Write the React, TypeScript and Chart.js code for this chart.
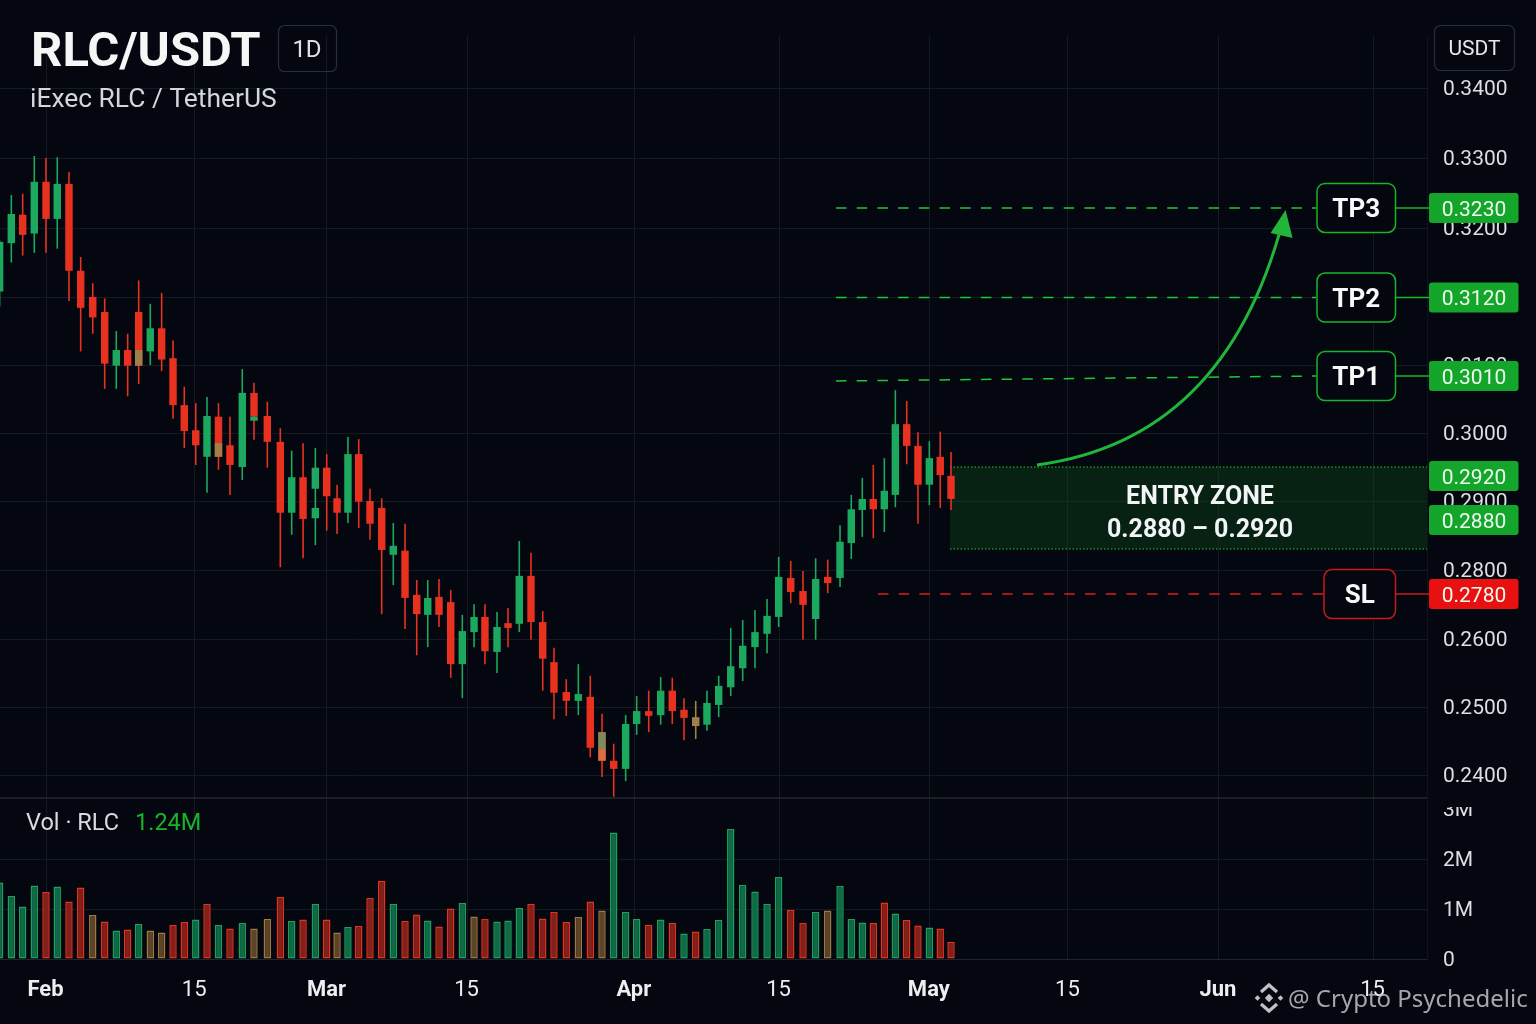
import React, { useEffect, useRef } from "react";
import { Chart, LinearScale, registerables } from "chart.js";

// ---- data ----
// slot of each candle on the x axis, in days from the "Feb" tick (the picture's spacing wobbles)
const candleSlots = [
  -4, -2.99, -2.01, -1.01, 0, 0.97, 1.98, 2.99, 4.03, 5.06, 6.06, 7.04, 7.99, 8.99, 9.97, 10.95, 11.92, 12.91, 13.88,
  14.87, 15.86, 16.92, 17.93, 19.08, 20.2, 21.18, 22.16, 23.22, 24.2, 25.09, 26.03, 26.96, 27.93, 28.94, 29.94, 30.95,
  31.96, 32.91, 33.88, 34.89, 35.89, 36.9, 37.84, 38.88, 39.83, 40.8, 41.81, 42.82, 43.79, 44.85, 45.89, 46.92, 47.93,
  48.94, 49.97, 50.92, 51.96, 52.99, 53.99, 55, 56.01, 56.98, 57.99, 59.03, 60.06, 61.12, 62.16, 63.16, 64.2, 65.26,
  66.35, 67.39, 68.45, 69.42, 70.37, 71.32, 72.27, 73.22, 74.2, 75.17, 76.15, 77.09, 78.02,
];
const opens = [
  0.3154, 0.3189, 0.3219, 0.3196, 0.3266, 0.3213, 0.3263, 0.3169, 0.3150, 0.3139, 0.3099, 0.3111, 0.3139, 0.3110,
  0.3127, 0.3105, 0.3041, 0.3004, 0.2965, 0.3024, 0.2982, 0.2950, 0.3059, 0.3025, 0.2987, 0.2883, 0.2935, 0.2918,
  0.2949, 0.2904, 0.2883, 0.2969, 0.2900, 0.2890, 0.2822, 0.2828, 0.2728, 0.2670, 0.2722, 0.2707, 0.2563, 0.2620,
  0.2664, 0.2581, 0.2646, 0.2644, 0.2783, 0.2649, 0.2566, 0.2522, 0.2509, 0.2515, 0.2463, 0.2421, 0.2409, 0.2475,
  0.2494, 0.2488, 0.2524, 0.2496, 0.2485, 0.2474, 0.2503, 0.2529, 0.2557, 0.2588, 0.2615, 0.2664, 0.2777, 0.2739,
  0.2658, 0.2780, 0.2777, 0.2839, 0.2887, 0.2903, 0.2888, 0.2909, 0.3013, 0.2981, 0.2924, 0.2965, 0.2937,
];
const closes = [
  0.3190, 0.3220, 0.3195, 0.3266, 0.3213, 0.3263, 0.3169, 0.3142, 0.3135, 0.3101, 0.3111, 0.3099, 0.3099, 0.3127,
  0.3104, 0.3041, 0.3003, 0.2982, 0.3025, 0.2965, 0.2953, 0.3059, 0.3024, 0.2987, 0.2883, 0.2935, 0.2874, 0.2949,
  0.2907, 0.2883, 0.2969, 0.2899, 0.2867, 0.2829, 0.2835, 0.2719, 0.2672, 0.2719, 0.2670, 0.2563, 0.2623, 0.2664,
  0.2582, 0.2635, 0.2632, 0.2783, 0.2649, 0.2571, 0.2521, 0.2509, 0.2519, 0.2440, 0.2421, 0.2409, 0.2475, 0.2494,
  0.2487, 0.2524, 0.2494, 0.2484, 0.2472, 0.2506, 0.2531, 0.2560, 0.2590, 0.2620, 0.2667, 0.2780, 0.2736, 0.2699,
  0.2774, 0.2762, 0.2841, 0.2888, 0.2903, 0.2888, 0.2915, 0.3013, 0.2981, 0.2924, 0.2963, 0.2938, 0.2903,
];
const highs = [
  0.3191, 0.3247, 0.3249, 0.3303, 0.3300, 0.3301, 0.3280, 0.3179, 0.3160, 0.3149, 0.3125, 0.3123, 0.3162, 0.3145,
  0.3153, 0.3118, 0.3068, 0.3044, 0.3053, 0.3044, 0.3024, 0.3094, 0.3074, 0.3046, 0.3007, 0.2974, 0.2985, 0.2978,
  0.2969, 0.2924, 0.2994, 0.2991, 0.2918, 0.2904, 0.2868, 0.2867, 0.2771, 0.2771, 0.2774, 0.2742, 0.2670, 0.2701,
  0.2701, 0.2678, 0.2690, 0.2842, 0.2825, 0.2681, 0.2587, 0.2541, 0.2563, 0.2546, 0.2490, 0.2446, 0.2488, 0.2516,
  0.2524, 0.2544, 0.2543, 0.2513, 0.2509, 0.2524, 0.2546, 0.2632, 0.2655, 0.2684, 0.2716, 0.2819, 0.2813, 0.2797,
  0.2817, 0.2815, 0.2865, 0.2909, 0.2934, 0.2953, 0.2963, 0.3063, 0.3047, 0.3001, 0.2988, 0.3002, 0.2972,
];
const lows = [
  0.3143, 0.3175, 0.3180, 0.3182, 0.3182, 0.3185, 0.3147, 0.3110, 0.3123, 0.3065, 0.3065, 0.3054, 0.3072, 0.3100,
  0.3091, 0.3021, 0.2978, 0.2953, 0.2912, 0.2946, 0.2909, 0.2931, 0.2990, 0.2949, 0.2804, 0.2851, 0.2817, 0.2836,
  0.2857, 0.2852, 0.2868, 0.2861, 0.2844, 0.2672, 0.2756, 0.2629, 0.2576, 0.2588, 0.2635, 0.2543, 0.2513, 0.2588,
  0.2563, 0.2550, 0.2588, 0.2620, 0.2599, 0.2524, 0.2482, 0.2487, 0.2488, 0.2426, 0.2397, 0.2368, 0.2391, 0.2459,
  0.2463, 0.2474, 0.2475, 0.2451, 0.2453, 0.2465, 0.2485, 0.2516, 0.2538, 0.2557, 0.2579, 0.2635, 0.2704, 0.2599,
  0.2599, 0.2733, 0.2751, 0.2816, 0.2848, 0.2846, 0.2855, 0.2891, 0.2954, 0.2867, 0.2894, 0.2890, 0.2887,
];
// candles whose body is tan in the picture, and two-toned pieces of other bodies (position in the candle lists)
const tanCandles = [60];
const patchCandle = [12, 19, 22, 27, 52, 52];
const patchFrom = [0.3111, 0.2985, 0.3024, 0.2890, 0.2463, 0.2438];
const patchTo = [0.3099, 0.2965, 0.3018, 0.2875, 0.2438, 0.2421];
const patchKind = ["tan", "tan", "up", "up", "olive", "orange"];

const volumes = [
  1.53, 1.26, 1.05, 1.47, 1.34, 1.45, 1.15, 1.43, 0.88, 0.75, 0.57, 0.59, 0.70, 0.57, 0.53, 0.68, 0.74, 0.79, 1.10,
  0.68, 0.61, 0.72, 0.61, 0.80, 1.24, 0.76, 0.79, 1.10, 0.79, 0.53, 0.64, 0.66, 1.22, 1.56, 1.10, 0.76, 0.89, 0.77,
  0.65, 1.01, 1.12, 0.85, 0.80, 0.75, 0.77, 1.02, 1.10, 0.81, 0.94, 0.74, 0.84, 1.15, 0.97, 2.53, 0.94, 0.80, 0.68,
  0.79, 0.72, 0.51, 0.55, 0.60, 0.78, 2.60, 1.48, 1.35, 1.10, 1.64, 0.98, 0.72, 0.94, 0.97, 1.46, 0.80, 0.73, 0.72,
  1.13, 0.91, 0.78, 0.67, 0.63, 0.61, 0.34,
]; // millions
const volumeKinds = [
  "uuuududdtd", "uduttddudu", "duttdududt", "uddduddudd", "utduuudddd", "tdtuuududu", "duuuuuuudd", "utuuuddudd", "udd",
]
  .join("")
  .split("");

const priceTickValues = [0.34, 0.33, 0.32, 0.315, 0.31, 0.3, 0.29, 0.28, 0.26, 0.25, 0.24];
const priceTickLabels = ["0.3400", "0.3300", "0.3200", "", "0.3100", "0.3000", "0.2900", "0.2800", "0.2600", "0.2500", "0.2400"];
const volumeTickValues = [0, 1, 2, 3];
const volumeTickLabels = ["0", "1M", "2M", "3M"];
const dateTickSlots = [0, 12.82, 24.22, 36.3, 50.72, 63.2, 76.15, 88.1, 101.07, 114.4];
const dateTickLabels = ["Feb", "15", "Mar", "15", "Apr", "15", "May", "15", "Jun", "15"];

// the printed price of a level and where the picture draws it on the axis differ
const takeProfitNames = ["TP3", "TP2", "TP1"];
const takeProfitLevels = [0.32286, 0.31496, 0.30838];
const takeProfitLineStarts = [0.32286, 0.31496, 0.30765]; // the TP1 line tilts slightly
const takeProfitPrinted = ["0.3230", "0.3120", "0.3010"];
const stopLevel = 0.27304;
const stopPrinted = "0.2780";
const entryTop = 0.295;
const entryBottom = 0.28304;
const entryLevels = [0.29368, 0.28725];
const entryPrinted = ["0.2920", "0.2880"];
const arrowSlots = [85.43, 101.6, 106.6];
const arrowPrice = [0.29529, 0.29897, 0.32086];

// ---- styles and layout ----
const BG = "#04070f";
const GRID = "#151a20";
const RED = "#e8321f";
const GREEN = "#1da85f";
const LEVEL_GREEN = "#20c838";
const LEVEL_RED = "#d81f1f";
const KIND: Record<string, string> = { tan: "#a08049", olive: "#7c8c5e", orange: "#d9703f", up: GREEN };
const VOL_FILL: Record<string, string> = { u: "#0f6b45", d: "#82201a", t: "#5f4326" };
const VOL_EDGE: Record<string, string> = { u: "#1f9e60", d: "#e5321f", t: "#9a7a45" };
const W = 1536;
const H = 1024;
const TOP = 36;
const SPLIT = 798;
const BOTTOM = 959;
const RIGHT = 1427;
const STEP = 11.6;
const FEB_X = 46;
const FONT = "Roboto, sans-serif";

// The printed axis is not evenly spaced in price: each label sits on an even row
// except for the missing 0.2700, so the scale interpolates between value/row pairs.
const priceRows = [88, 158, 228, 297, 365, 433, 501, 570, 639, 707, 775];
const knotValues = [0.34743, ...priceTickValues, 0.23662];
const knotFractions = [TOP, ...priceRows, SPLIT].map((r) => (r - TOP) / (SPLIT - TOP));

function shiftLabels(scale: any, chartArea: any, draw: (a: any) => void, dx: number, dy: number) {
  const c = scale.ctx;
  c.save();
  c.translate(dx, dy);
  draw.call(scale, chartArea);
  c.restore();
}

class KnottedScale extends LinearScale {
  static id = "knotted";
  getPixelForValue(value: number) {
    if (value == null || Number.isNaN(value)) return NaN;
    let i = 0;
    while (i < knotValues.length - 2 && value < knotValues[i + 1]) i++;
    const t = (knotValues[i] - value) / (knotValues[i] - knotValues[i + 1]);
    const f = knotFractions[i] + t * (knotFractions[i + 1] - knotFractions[i]);
    return (this as any).top + f * (this as any).height;
  }
  getValueForPixel(pixel: number) {
    const f = (pixel - (this as any).top) / (this as any).height;
    let i = 0;
    while (i < knotFractions.length - 2 && f > knotFractions[i + 1]) i++;
    const t = (f - knotFractions[i]) / (knotFractions[i + 1] - knotFractions[i]);
    return knotValues[i] + t * (knotValues[i + 1] - knotValues[i]);
  }
  drawLabels(chartArea: any) {
    shiftLabels(this, chartArea, (super.drawLabels as any), 0, 2);
  }
}
class VolumeScale extends LinearScale {
  static id = "volumeLinear";
  drawLabels(chartArea: any) {
    shiftLabels(this, chartArea, (super.drawLabels as any), 0, 2);
  }
}
class DateSlotScale extends LinearScale {
  static id = "dateSlots";
  drawLabels(chartArea: any) {
    shiftLabels(this, chartArea, (super.drawLabels as any), -0.5, 0);
  }
}
Chart.register(...registerables, KnottedScale as any, VolumeScale as any, DateSlotScale as any);

const slotOf = (px: number) => (px - FEB_X) / STEP;

function roundBox(c: CanvasRenderingContext2D, x: number, y: number, w: number, h: number, r: number) {
  c.beginPath();
  c.roundRect(x, y, w, h, r);
}

function label(c: CanvasRenderingContext2D, text: string, x: number, y: number, font: string, color: string, align: CanvasTextAlign = "center") {
  c.font = font;
  c.fillStyle = color;
  c.textAlign = align;
  c.textBaseline = "middle";
  c.fillText(text, x, y + 2);
}

const overlays = {
  id: "overlays",
  beforeDatasetsDraw(chart: any) {
    const c: CanvasRenderingContext2D = chart.ctx;
    const { x, y } = chart.scales;
    const x0 = x.getPixelForValue(slotOf(950));
    const yT = y.getPixelForValue(entryTop);
    const yB = y.getPixelForValue(entryBottom);
    c.save();
    c.fillStyle = "rgba(15,85,30,0.34)";
    c.fillRect(x0, yT, RIGHT - x0, yB - yT);
    c.strokeStyle = "#22c83a";
    c.lineWidth = 1;
    c.setLineDash([1.5, 2]);
    for (const v of [yT, yB]) {
      c.beginPath();
      c.moveTo(x0, v);
      c.lineTo(RIGHT, v);
      c.stroke();
    }
    c.setLineDash([]);
    c.strokeStyle = "#24282e";
    c.lineWidth = 1.5;
    c.beginPath();
    c.moveTo(0, SPLIT);
    c.lineTo(RIGHT, SPLIT);
    c.stroke();
    c.restore();
  },
  afterDatasetsDraw(chart: any) {
    const c: CanvasRenderingContext2D = chart.ctx;
    const { x, y } = chart.scales;
    const px = arrowSlots.map((v) => x.getPixelForValue(v));
    const py = arrowPrice.map((v) => y.getPixelForValue(v));
    c.save();
    c.strokeStyle = "#22b53a";
    c.lineWidth = 3;
    c.beginPath();
    c.moveTo(px[0], py[0]);
    c.quadraticCurveTo(px[1], py[1], px[2], py[2]);
    c.stroke();
    c.fillStyle = "#22b53a";
    c.beginPath();
    c.moveTo(px[2] + 3, py[2] - 12);
    c.lineTo(px[2] - 12, py[2] + 11);
    c.lineTo(px[2] + 10, py[2] + 16);
    c.closePath();
    c.fill();
    label(c, "ENTRY ZONE", 1200, 495.5, `700 25px ${FONT}`, "#f2f4f5");
    label(c, "0.2880 – 0.2920", 1200, 528.5, `700 25px ${FONT}`, "#f2f4f5");
    c.restore();
  },
  afterDraw(chart: any) {
    const c: CanvasRenderingContext2D = chart.ctx;
    const { y } = chart.scales;
    c.save();
    // the "3M" label is cut off by the pane above it
    c.fillStyle = BG;
    c.fillRect(RIGHT + 3, SPLIT + 1, W - RIGHT - 3, 8);

    const badge = (text: string, v: number, fill: string) => {
      const b = y.getPixelForValue(v);
      c.fillStyle = fill;
      roundBox(c, 1429, b - 15, 89.5, 30, 3);
      c.fill();
      label(c, text, 1474, b + 0.5, `21px ${FONT}`, "#eefbef");
    };
    const tagged = (name: string, v: number, left: number, color: string, text: string, fill: string) => {
      const b = y.getPixelForValue(v);
      c.strokeStyle = color;
      c.lineWidth = 1.5;
      c.beginPath();
      c.moveTo(1396, b);
      c.lineTo(1429, b);
      c.stroke();
      c.fillStyle = BG;
      roundBox(c, left, b - 24.5, 1395.5 - left, 49, 8);
      c.fill();
      c.stroke();
      label(c, name, (left + 1395.5) / 2, b + 0.5, `700 26px ${FONT}`, "#f7f8f8");
      badge(text, v, fill);
    };
    takeProfitNames.forEach((n, i) => tagged(n, takeProfitLevels[i], 1317, "#17b52a", takeProfitPrinted[i], "#14a62a"));
    tagged("SL", stopLevel, 1324, "#c8181c", stopPrinted, "#e81010");
    entryPrinted.forEach((t, i) => badge(t, entryLevels[i], "#14a62a"));

    // header
    label(c, "RLC/USDT", 31, 52, `700 49px ${FONT}`, "#f5f6f6", "left");
    label(c, "iExec RLC / TetherUS", 30, 98.5, `26.4px ${FONT}`, "#d4d7da", "left");
    c.strokeStyle = "#2a2e35";
    c.lineWidth = 1.2;
    roundBox(c, 278.5, 25.5, 58, 46, 6);
    c.stroke();
    label(c, "1D", 307, 48.5, `24px ${FONT}`, "#dfe2e4");
    roundBox(c, 1434.5, 25.5, 80, 45, 6);
    c.stroke();
    label(c, "USDT", 1474.5, 47.5, `21px ${FONT}`, "#e6e8ea");

    // volume pane caption
    label(c, "Vol · RLC", 26, 822.5, `23.5px ${FONT}`, "#d9dcdf", "left");
    label(c, "1.24M", 135, 822.5, `23.5px ${FONT}`, "#17b52a", "left");

    // watermark
    c.strokeStyle = "#bfc2c5";
    c.fillStyle = "#bfc2c5";
    c.lineWidth = 3.2;
    const ic = [1269, 998];
    for (const s of [-1, 1]) {
      c.beginPath();
      c.moveTo(ic[0] - 8, ic[1] + s * 6);
      c.lineTo(ic[0], ic[1] + s * 13);
      c.lineTo(ic[0] + 8, ic[1] + s * 6);
      c.stroke();
    }
    for (const [dx, dy, r] of [[0, 0, 4.2], [-11.5, 0, 2.8], [11.5, 0, 2.8]]) {
      c.beginPath();
      c.moveTo(ic[0] + dx - r, ic[1] + dy);
      c.lineTo(ic[0] + dx, ic[1] + dy - r);
      c.lineTo(ic[0] + dx + r, ic[1] + dy);
      c.lineTo(ic[0] + dx, ic[1] + dy + r);
      c.closePath();
      c.fill();
    }
    label(c, "@ Crypto Psychedelic", 1288, 998, `24px "Noto Sans", sans-serif`, "rgba(200,203,206,0.82)", "left");
    c.restore();
  },
};

function levelLine(from: number, to: number, fromPx: number, toPx: number, color: string) {
  return {
    type: "line" as const,
    data: [
      { x: slotOf(fromPx), y: from },
      { x: slotOf(toPx), y: to },
    ],
    borderColor: color,
    borderWidth: 1.5,
    borderDash: [10.5, 10.2],
    pointRadius: 0,
    order: 1,
    xAxisID: "x",
    yAxisID: "y",
  };
}

export default function App() {
  const ref = useRef<HTMLCanvasElement>(null);
  useEffect(() => {
    const candleColor = opens.map((o, i) => (tanCandles.includes(i) ? KIND.tan : o > closes[i] ? RED : GREEN));
    const chart = new Chart(ref.current as HTMLCanvasElement, {
      type: "bar",
      data: {
        datasets: [
          {
            data: opens.map((_, i) => ({ x: candleSlots[i], y: [lows[i], highs[i]] })),
            backgroundColor: candleColor,
            maxBarThickness: 1.6,
            grouped: false,
            order: 5,
            yAxisID: "y",
          },
          {
            data: opens.map((o, i) => ({ x: candleSlots[i], y: [o, closes[i]] })),
            backgroundColor: candleColor,
            maxBarThickness: 8.4,
            grouped: false,
            order: 4,
            yAxisID: "y",
          },
          {
            data: patchCandle.map((n, i) => ({ x: candleSlots[n], y: [patchFrom[i], patchTo[i]] })),
            backgroundColor: patchKind.map((k) => KIND[k]),
            maxBarThickness: 8.4,
            grouped: false,
            order: 3,
            yAxisID: "y",
          },
          {
            data: volumes.map((v, i) => ({ x: candleSlots[i], y: v })),
            backgroundColor: volumeKinds.map((k) => VOL_FILL[k]),
            borderColor: volumeKinds.map((k) => VOL_EDGE[k]),
            borderWidth: 1.5,
            borderSkipped: false,
            maxBarThickness: 8.6,
            grouped: false,
            order: 6,
            yAxisID: "yVol",
          },
          ...takeProfitLevels.map((v, i) => levelLine(takeProfitLineStarts[i], v, 836, 1316, LEVEL_GREEN)),
          levelLine(stopLevel, stopLevel, 878, 1323, LEVEL_RED),
        ] as any,
      },
      options: {
        animation: false,
        responsive: false,
        devicePixelRatio: 1,
        events: [],
        layout: { padding: { top: TOP, left: 0, right: 0, bottom: 0 } },
        plugins: { legend: { display: false }, tooltip: { enabled: false } },
        scales: {
          x: {
            type: "dateSlots",
            min: slotOf(0),
            max: slotOf(RIGHT),
            offset: false,
            afterFit: (s: any) => {
              s.height = H - BOTTOM;
            },
            afterBuildTicks: (s: any) => {
              s.ticks = dateTickSlots.map((value) => ({ value }));
            },
            border: { color: "#20252b", width: 1 },
            grid: { color: GRID, drawTicks: false, offset: false },
            ticks: {
              autoSkip: false,
              maxRotation: 0,
              includeBounds: false,
              padding: 18,
              color: "#eceef0",
              font: (ctx: any) => ({
                family: "Roboto",
                size: 22,
                weight: dateTickLabels[ctx.index] === "15" ? "normal" : "bold",
              }),
              callback: (_v: any, i: number) => dateTickLabels[i],
            },
          } as any,
          y: {
            type: "knotted",
            position: "right",
            stack: "panes",
            stackWeight: SPLIT - TOP,
            min: 0.23662,
            max: 0.34743,
            afterFit: (s: any) => {
              s.width = W - RIGHT;
            },
            afterBuildTicks: (s: any) => {
              s.ticks = priceTickValues.map((value) => ({ value }));
            },
            border: { color: "#10141a" },
            grid: { color: GRID, drawTicks: false },
            ticks: {
              autoSkip: false,
              padding: 16,
              color: "#dcdfe3",
              font: { family: "Roboto", size: 21 },
              callback: (_v: any, i: number) => priceTickLabels[i],
            },
          } as any,
          yVol: {
            type: "volumeLinear",
            position: "right",
            stack: "panes",
            stackWeight: BOTTOM - SPLIT,
            min: 0,
            max: (BOTTOM - SPLIT) / 50,
            afterFit: (s: any) => {
              s.width = W - RIGHT;
            },
            afterBuildTicks: (s: any) => {
              s.ticks = volumeTickValues.map((value) => ({ value }));
            },
            border: { color: "#10141a" },
            grid: {
              color: (ctx: any) => (ctx.index === 3 ? "rgba(0,0,0,0)" : GRID),
              drawTicks: false,
            },
            ticks: {
              autoSkip: false,
              padding: 16,
              color: "#dcdfe3",
              font: { family: "Roboto", size: 21 },
              callback: (_v: any, i: number) => volumeTickLabels[i],
            },
          } as any,
        },
      },
      plugins: [overlays],
    });
    return () => chart.destroy();
  }, []);
  return (
    <div style={{ position: "fixed", left: 0, top: 0, width: W, height: H, background: BG }}>
      <canvas ref={ref} width={W} height={H} style={{ display: "block" }} />
    </div>
  );
}
